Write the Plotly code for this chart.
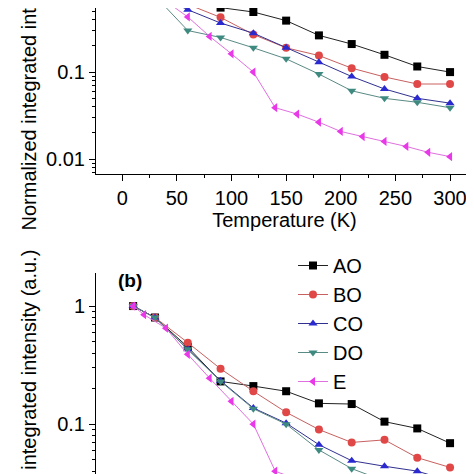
import plotly.graph_objects as go

# Panel (a) - top
temp_a_AO = [10, 30, 60, 90, 120, 150, 180, 210, 240, 270, 300]
AO_a = [1, 0.85, 0.7, 0.55, 0.49, 0.39, 0.264, 0.21, 0.158, 0.116, 0.10]
temp_a_BO = [10, 30, 60, 90, 120, 150, 180, 210, 240, 270, 300]
BO_a = [1, 0.8, 0.6, 0.425, 0.27, 0.19, 0.155, 0.111, 0.088, 0.073, 0.073]
temp_a_CO = [10, 30, 60, 90, 120, 150, 180, 210, 240, 270, 300]
CO_a = [1, 0.78, 0.52, 0.366, 0.28, 0.19, 0.13, 0.089, 0.064, 0.050, 0.044]
temp_a_DO = [10, 30, 60, 90, 120, 150, 180, 210, 240, 270, 300]
DO_a = [1, 0.75, 0.30, 0.25, 0.19, 0.142, 0.095, 0.061, 0.050, 0.045, 0.039]
temp_a_E = [10, 20, 40, 60, 80, 100, 120, 140, 160, 180, 200, 220, 240, 260, 280, 300]
E_a = [1, 0.86, 0.65, 0.43, 0.257, 0.162, 0.10, 0.039, 0.033, 0.0266, 0.0208, 0.0182, 0.016, 0.014, 0.012, 0.0107]

# Panel (b) - bottom
temp_b_O = [10, 30, 60, 90, 120, 150, 180, 210, 240, 270, 300]
AO_b = [1, 0.8, 0.45, 0.23, 0.21, 0.19, 0.15, 0.148, 0.105, 0.092, 0.069]
BO_b = [1, 0.8, 0.49, 0.294, 0.19, 0.126, 0.09, 0.070, 0.0736, 0.052, 0.043]
CO_b = [1, 0.8, 0.43, 0.233, 0.137, 0.102, 0.067, 0.049, 0.044, 0.040, 0.033]
DO_b = [1, 0.8, 0.43, 0.23, 0.135, 0.10, 0.0605, 0.042, 0.033, 0.030, 0.028]
temp_b_E = [10, 20, 40, 60, 80, 100, 120, 140, 160, 180]
E_b = [1, 0.845, 0.65, 0.39, 0.245, 0.156, 0.10, 0.040, 0.034, 0.027]

names = ['AO', 'BO', 'CO', 'DO', 'E']
symbols = ['square', 'circle', 'triangle-up', 'triangle-down', 'triangle-left']
mcolors = ['#000000', '#e04848', '#2a2ad0', '#3e8a80', '#e838e8']
lcolors = ['#222222', '#c86060', '#303090', '#5a8a85', '#e070e0']

top = [(temp_a_AO, AO_a), (temp_a_BO, BO_a), (temp_a_CO, CO_a), (temp_a_DO, DO_a), (temp_a_E, E_a)]
bot = [(temp_b_O, AO_b), (temp_b_O, BO_b), (temp_b_O, CO_b), (temp_b_O, DO_b), (temp_b_E, E_b)]

fig = go.Figure()
for i, (x, y) in enumerate(top):
    fig.add_trace(go.Scatter(x=x, y=y, mode='lines+markers', name=names[i], showlegend=False,
                             marker=dict(symbol=symbols[i], size=8, color=mcolors[i]),
                             line=dict(color=lcolors[i], width=1), xaxis='x', yaxis='y'))
for i, (x, y) in enumerate(bot):
    fig.add_trace(go.Scatter(x=x, y=y, mode='lines+markers', name=names[i],
                             marker=dict(symbol=symbols[i], size=8, color=mcolors[i]),
                             line=dict(color=lcolors[i], width=1), xaxis='x2', yaxis='y2'))

W = 474
xdom = [88 / W, 465 / W]
tick_font = dict(family='Liberation Sans, Arial', size=20, color='black')
minor = dict(ticks='outside', ticklen=3, tickcolor='black')
axis_common = dict(showline=True, linecolor='black', linewidth=1, ticks='outside',
                   ticklen=6, tickcolor='black', showgrid=False, zeroline=False,
                   tickfont=tick_font)

fig.update_layout(
    width=W, height=W, margin=dict(l=0, r=0, t=0, b=0),
    plot_bgcolor='white', paper_bgcolor='white',
    xaxis=dict(domain=xdom, range=[-24, 321], tickvals=[0, 50, 100, 150, 200, 250, 300],
               minor=dict(dtick=25, **minor), anchor='y',
               title=dict(text='Temperature (K)', font=tick_font, standoff=4), **axis_common),
    yaxis=dict(domain=[1 - 166 / W, 1], type='log', range=[-2.17, -0.264],
               tickvals=[0.01, 0.1, 1], ticktext=['0.01', '0.1', '1'],
               minor=dict(tickvals=[0.007, 0.008, 0.009, 0.02, 0.03, 0.04, 0.05, 0.06, 0.07, 0.08, 0.09,
                                    0.2, 0.3, 0.4, 0.5, 0.6, 0.7, 0.8, 0.9], **minor),
               anchor='x', **axis_common),
    xaxis2=dict(domain=xdom, range=[-24, 321], anchor='y2', showline=False, showticklabels=False,
                ticks='', showgrid=False, zeroline=False),
    yaxis2=dict(domain=[0, 1 - 265 / W], type='log', range=[-1.49, 0.28],
                tickvals=[0.1, 1], ticktext=['0.1', '1'],
                minor=dict(tickvals=[0.04, 0.05, 0.06, 0.07, 0.08, 0.09,
                                     0.2, 0.3, 0.4, 0.5, 0.6, 0.7, 0.8, 0.9], **minor),
                anchor='x2', **axis_common),
    legend=dict(x=285 / W, y=1 - 238 / W, xanchor='left', yanchor='top',
                font=dict(family='Liberation Sans, Arial', size=20, color='black'),
                bgcolor='rgba(0,0,0,0)', tracegroupgap=0),
    annotations=[
        dict(text='<b>(b)</b>', x=108 / W, y=1 - 272 / W, xref='paper', yref='paper',
             xanchor='left', yanchor='middle', showarrow=False,
             font=dict(family='Liberation Sans, Arial', size=19, color='black')),
        dict(text='Normalized integrated intensity (a.u.)', x=20 / W, y=1 - 225 / W,
             xref='paper', yref='paper', textangle=-90, xanchor='center', yanchor='bottom',
             showarrow=False, font=tick_font),
        dict(text='Normalized integrated intensity (a.u.)', x=20 / W, y=1 - 240 / W,
             xref='paper', yref='paper', textangle=-90, xanchor='center', yanchor='top',
             showarrow=False, font=tick_font),
    ],
)

fig.write_html('out.html')
